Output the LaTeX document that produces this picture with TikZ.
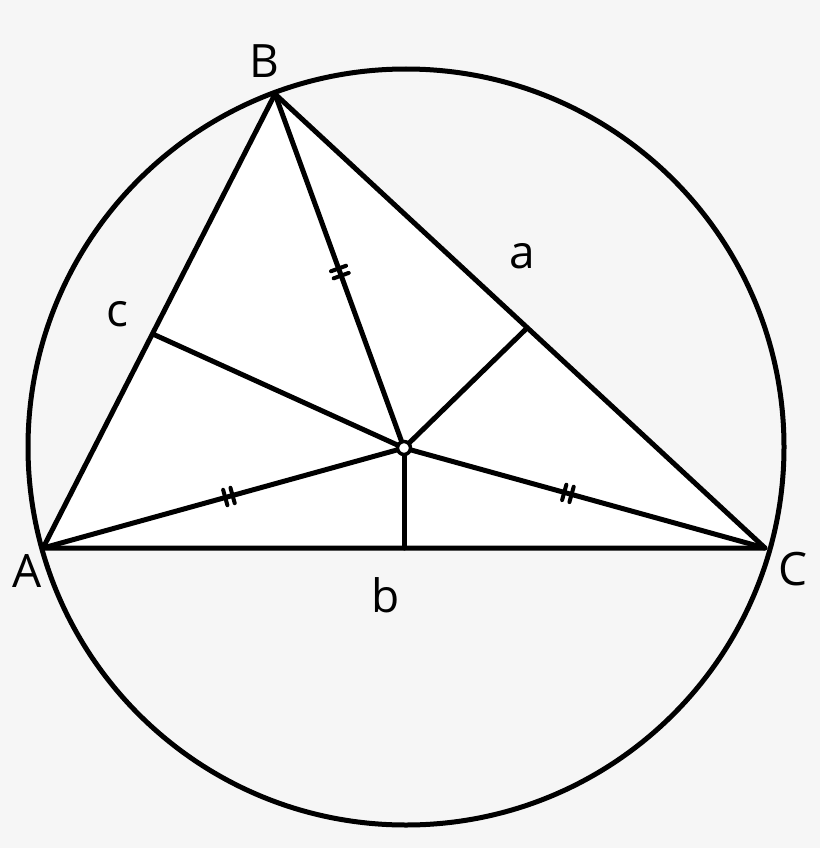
\documentclass[tikz,border=0pt]{standalone}
\usepackage{fontspec}
\setmainfont{Open Sans}
\definecolor{bg}{HTML}{F6F6F6}
\begin{document}
\begin{tikzpicture}[x=1pt,y=-1pt,
  thick line/.style={line width=5pt, line cap=round, line join=round},
  lbl/.style={anchor=base, inner sep=0pt, font=\fontsize{46}{46}\selectfont},
  dtick/.pic={\draw[line width=4pt] (-3.8,-8)--(-3.8,8) (3.8,-8)--(3.8,8);}]
\fill[bg] (0,0) rectangle (820,848);
\useasboundingbox (0,0) rectangle (820,848);
\coordinate (A) at (43,548);
\coordinate (B) at (275,94);
\coordinate (C) at (765,548);
\coordinate (O) at (404,448);
\coordinate (Fa) at (525,330);
\coordinate (Fb) at (404,548);
\coordinate (Fc) at (155,335);
\coordinate (M) at (406,447);
% triangle
\fill[white] (A) -- (B) -- (C) -- cycle;
\draw[thick line] (M) circle[radius=378];
\draw[thick line] (A) -- (B) -- (C) -- cycle;
% segments from centre
\draw[thick line] (O) -- (A) pic[pos=0.485, sloped]{dtick};
\draw[thick line] (O) -- (B) pic[pos=0.497, sloped]{dtick};
\draw[thick line] (O) -- (C) pic[pos=0.454, sloped]{dtick};
\draw[thick line] (O) -- (Fa);
\draw[thick line] (O) -- (Fb);
\draw[thick line] (O) -- (Fc);
\node[circle, draw, fill=white, line width=3.5pt, minimum size=13pt, inner sep=0pt] (Oc) at (O) {};
% labels
\node[lbl] (lB) at (264,78) {B};
\node[lbl] (la) at (522,268) {a};
\node[lbl] (lc) at (117,326) {c};
\node[lbl] (lA) at (27,587) {A};
\node[lbl] (lb) at (386,612) {b};
\node[lbl] (lC) at (793,585) {C};
\end{tikzpicture}
\end{document}
